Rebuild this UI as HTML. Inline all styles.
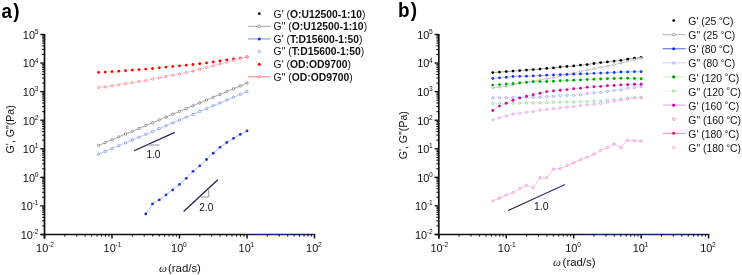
<!DOCTYPE html>
<html><head><meta charset="utf-8"><title>G' G" vs omega</title>
<style>html,body{margin:0;padding:0;background:#fff;}body{width:742px;height:275px;overflow:hidden;}svg{display:block;filter:blur(0.3px);}</style>
</head><body>
<svg width="742" height="275" viewBox="0 0 742 275" font-family='"Liberation Sans", sans-serif' fill="#111">
<defs>
<linearGradient id="xgA" gradientUnits="userSpaceOnUse" x1="44" y1="0" x2="315" y2="0"><stop offset="0" stop-color="#111"/><stop offset="0.73" stop-color="#111"/><stop offset="0.78" stop-color="#1c1c78"/><stop offset="1" stop-color="#1c1c78"/></linearGradient>
<linearGradient id="xgB" gradientUnits="userSpaceOnUse" x1="438" y1="0" x2="709" y2="0"><stop offset="0" stop-color="#111"/><stop offset="0.5" stop-color="#111"/><stop offset="0.57" stop-color="#1c1c78"/><stop offset="1" stop-color="#1c1c78"/></linearGradient>
<linearGradient id="slA" gradientUnits="userSpaceOnUse" x1="134" y1="0" x2="175" y2="0"><stop offset="0" stop-color="#1b1b3a"/><stop offset="1" stop-color="#22226a"/></linearGradient>
<linearGradient id="slB" gradientUnits="userSpaceOnUse" x1="508" y1="0" x2="565" y2="0"><stop offset="0" stop-color="#222"/><stop offset="1" stop-color="#30309a"/></linearGradient>
</defs>
<text transform="translate(1.6,17.6) scale(0.9,1)" font-size="21" letter-spacing="1.3" font-weight="bold" fill="#000">a)</text>
<text transform="translate(398,16.8) scale(0.9,1)" font-size="21" letter-spacing="1.3" font-weight="bold" fill="#000">b)</text>
<line x1="44.50" y1="34.00" x2="44.50" y2="238.50" stroke="#111" stroke-width="1.7"/>
<line x1="40.50" y1="234.50" x2="315.10" y2="234.50" stroke="url(#xgA)" stroke-width="1.3"/>
<line x1="40.30" y1="234.50" x2="44.50" y2="234.50" stroke="#111" stroke-width="1.4"/>
<line x1="42.10" y1="225.90" x2="44.50" y2="225.90" stroke="#111" stroke-width="1.1"/>
<line x1="42.10" y1="220.87" x2="44.50" y2="220.87" stroke="#111" stroke-width="1.1"/>
<line x1="42.10" y1="217.30" x2="44.50" y2="217.30" stroke="#111" stroke-width="1.1"/>
<line x1="42.10" y1="214.53" x2="44.50" y2="214.53" stroke="#111" stroke-width="1.1"/>
<line x1="42.10" y1="212.27" x2="44.50" y2="212.27" stroke="#111" stroke-width="1.1"/>
<line x1="42.10" y1="210.35" x2="44.50" y2="210.35" stroke="#111" stroke-width="1.1"/>
<line x1="42.10" y1="208.70" x2="44.50" y2="208.70" stroke="#111" stroke-width="1.1"/>
<line x1="42.10" y1="207.24" x2="44.50" y2="207.24" stroke="#111" stroke-width="1.1"/>
<line x1="40.30" y1="205.93" x2="44.50" y2="205.93" stroke="#111" stroke-width="1.4"/>
<line x1="42.10" y1="197.33" x2="44.50" y2="197.33" stroke="#111" stroke-width="1.1"/>
<line x1="42.10" y1="192.30" x2="44.50" y2="192.30" stroke="#111" stroke-width="1.1"/>
<line x1="42.10" y1="188.73" x2="44.50" y2="188.73" stroke="#111" stroke-width="1.1"/>
<line x1="42.10" y1="185.96" x2="44.50" y2="185.96" stroke="#111" stroke-width="1.1"/>
<line x1="42.10" y1="183.70" x2="44.50" y2="183.70" stroke="#111" stroke-width="1.1"/>
<line x1="42.10" y1="181.78" x2="44.50" y2="181.78" stroke="#111" stroke-width="1.1"/>
<line x1="42.10" y1="180.13" x2="44.50" y2="180.13" stroke="#111" stroke-width="1.1"/>
<line x1="42.10" y1="178.66" x2="44.50" y2="178.66" stroke="#111" stroke-width="1.1"/>
<line x1="40.30" y1="177.36" x2="44.50" y2="177.36" stroke="#111" stroke-width="1.4"/>
<line x1="42.10" y1="168.76" x2="44.50" y2="168.76" stroke="#111" stroke-width="1.1"/>
<line x1="42.10" y1="163.73" x2="44.50" y2="163.73" stroke="#111" stroke-width="1.1"/>
<line x1="42.10" y1="160.16" x2="44.50" y2="160.16" stroke="#111" stroke-width="1.1"/>
<line x1="42.10" y1="157.39" x2="44.50" y2="157.39" stroke="#111" stroke-width="1.1"/>
<line x1="42.10" y1="155.12" x2="44.50" y2="155.12" stroke="#111" stroke-width="1.1"/>
<line x1="42.10" y1="153.21" x2="44.50" y2="153.21" stroke="#111" stroke-width="1.1"/>
<line x1="42.10" y1="151.55" x2="44.50" y2="151.55" stroke="#111" stroke-width="1.1"/>
<line x1="42.10" y1="150.09" x2="44.50" y2="150.09" stroke="#111" stroke-width="1.1"/>
<line x1="40.30" y1="148.79" x2="44.50" y2="148.79" stroke="#111" stroke-width="1.4"/>
<line x1="42.10" y1="140.18" x2="44.50" y2="140.18" stroke="#111" stroke-width="1.1"/>
<line x1="42.10" y1="135.15" x2="44.50" y2="135.15" stroke="#111" stroke-width="1.1"/>
<line x1="42.10" y1="131.58" x2="44.50" y2="131.58" stroke="#111" stroke-width="1.1"/>
<line x1="42.10" y1="128.82" x2="44.50" y2="128.82" stroke="#111" stroke-width="1.1"/>
<line x1="42.10" y1="126.55" x2="44.50" y2="126.55" stroke="#111" stroke-width="1.1"/>
<line x1="42.10" y1="124.64" x2="44.50" y2="124.64" stroke="#111" stroke-width="1.1"/>
<line x1="42.10" y1="122.98" x2="44.50" y2="122.98" stroke="#111" stroke-width="1.1"/>
<line x1="42.10" y1="121.52" x2="44.50" y2="121.52" stroke="#111" stroke-width="1.1"/>
<line x1="40.30" y1="120.21" x2="44.50" y2="120.21" stroke="#111" stroke-width="1.4"/>
<line x1="42.10" y1="111.61" x2="44.50" y2="111.61" stroke="#111" stroke-width="1.1"/>
<line x1="42.10" y1="106.58" x2="44.50" y2="106.58" stroke="#111" stroke-width="1.1"/>
<line x1="42.10" y1="103.01" x2="44.50" y2="103.01" stroke="#111" stroke-width="1.1"/>
<line x1="42.10" y1="100.24" x2="44.50" y2="100.24" stroke="#111" stroke-width="1.1"/>
<line x1="42.10" y1="97.98" x2="44.50" y2="97.98" stroke="#111" stroke-width="1.1"/>
<line x1="42.10" y1="96.07" x2="44.50" y2="96.07" stroke="#111" stroke-width="1.1"/>
<line x1="42.10" y1="94.41" x2="44.50" y2="94.41" stroke="#111" stroke-width="1.1"/>
<line x1="42.10" y1="92.95" x2="44.50" y2="92.95" stroke="#111" stroke-width="1.1"/>
<line x1="40.30" y1="91.64" x2="44.50" y2="91.64" stroke="#111" stroke-width="1.4"/>
<line x1="42.10" y1="83.04" x2="44.50" y2="83.04" stroke="#111" stroke-width="1.1"/>
<line x1="42.10" y1="78.01" x2="44.50" y2="78.01" stroke="#111" stroke-width="1.1"/>
<line x1="42.10" y1="74.44" x2="44.50" y2="74.44" stroke="#111" stroke-width="1.1"/>
<line x1="42.10" y1="71.67" x2="44.50" y2="71.67" stroke="#111" stroke-width="1.1"/>
<line x1="42.10" y1="69.41" x2="44.50" y2="69.41" stroke="#111" stroke-width="1.1"/>
<line x1="42.10" y1="67.50" x2="44.50" y2="67.50" stroke="#111" stroke-width="1.1"/>
<line x1="42.10" y1="65.84" x2="44.50" y2="65.84" stroke="#111" stroke-width="1.1"/>
<line x1="42.10" y1="64.38" x2="44.50" y2="64.38" stroke="#111" stroke-width="1.1"/>
<line x1="40.30" y1="63.07" x2="44.50" y2="63.07" stroke="#111" stroke-width="1.4"/>
<line x1="42.10" y1="54.47" x2="44.50" y2="54.47" stroke="#111" stroke-width="1.1"/>
<line x1="42.10" y1="49.44" x2="44.50" y2="49.44" stroke="#111" stroke-width="1.1"/>
<line x1="42.10" y1="45.87" x2="44.50" y2="45.87" stroke="#111" stroke-width="1.1"/>
<line x1="42.10" y1="43.10" x2="44.50" y2="43.10" stroke="#111" stroke-width="1.1"/>
<line x1="42.10" y1="40.84" x2="44.50" y2="40.84" stroke="#111" stroke-width="1.1"/>
<line x1="42.10" y1="38.93" x2="44.50" y2="38.93" stroke="#111" stroke-width="1.1"/>
<line x1="42.10" y1="37.27" x2="44.50" y2="37.27" stroke="#111" stroke-width="1.1"/>
<line x1="42.10" y1="35.81" x2="44.50" y2="35.81" stroke="#111" stroke-width="1.1"/>
<line x1="40.30" y1="34.50" x2="44.50" y2="34.50" stroke="#111" stroke-width="1.4"/>
<line x1="44.50" y1="234.00" x2="44.50" y2="238.50" stroke="#111" stroke-width="1.5"/>
<line x1="64.82" y1="234.00" x2="64.82" y2="236.60" stroke="#111" stroke-width="1.1"/>
<line x1="76.71" y1="234.00" x2="76.71" y2="236.60" stroke="#111" stroke-width="1.1"/>
<line x1="85.14" y1="234.00" x2="85.14" y2="236.60" stroke="#111" stroke-width="1.1"/>
<line x1="91.68" y1="234.00" x2="91.68" y2="236.60" stroke="#111" stroke-width="1.1"/>
<line x1="97.03" y1="234.00" x2="97.03" y2="236.60" stroke="#111" stroke-width="1.1"/>
<line x1="101.54" y1="234.00" x2="101.54" y2="236.60" stroke="#111" stroke-width="1.1"/>
<line x1="105.46" y1="234.00" x2="105.46" y2="236.60" stroke="#111" stroke-width="1.1"/>
<line x1="108.91" y1="234.00" x2="108.91" y2="236.60" stroke="#111" stroke-width="1.1"/>
<line x1="112.00" y1="234.00" x2="112.00" y2="238.50" stroke="#111" stroke-width="1.5"/>
<line x1="132.32" y1="234.00" x2="132.32" y2="236.60" stroke="#111" stroke-width="1.1"/>
<line x1="144.21" y1="234.00" x2="144.21" y2="236.60" stroke="#111" stroke-width="1.1"/>
<line x1="152.64" y1="234.00" x2="152.64" y2="236.60" stroke="#111" stroke-width="1.1"/>
<line x1="159.18" y1="234.00" x2="159.18" y2="236.60" stroke="#111" stroke-width="1.1"/>
<line x1="164.53" y1="234.00" x2="164.53" y2="236.60" stroke="#111" stroke-width="1.1"/>
<line x1="169.04" y1="234.00" x2="169.04" y2="236.60" stroke="#111" stroke-width="1.1"/>
<line x1="172.96" y1="234.00" x2="172.96" y2="236.60" stroke="#111" stroke-width="1.1"/>
<line x1="176.41" y1="234.00" x2="176.41" y2="236.60" stroke="#111" stroke-width="1.1"/>
<line x1="179.50" y1="234.00" x2="179.50" y2="238.50" stroke="#111" stroke-width="1.5"/>
<line x1="199.82" y1="234.00" x2="199.82" y2="236.60" stroke="#111" stroke-width="1.1"/>
<line x1="211.71" y1="234.00" x2="211.71" y2="236.60" stroke="#111" stroke-width="1.1"/>
<line x1="220.14" y1="234.00" x2="220.14" y2="236.60" stroke="#111" stroke-width="1.1"/>
<line x1="226.68" y1="234.00" x2="226.68" y2="236.60" stroke="#111" stroke-width="1.1"/>
<line x1="232.03" y1="234.00" x2="232.03" y2="236.60" stroke="#111" stroke-width="1.1"/>
<line x1="236.54" y1="234.00" x2="236.54" y2="236.60" stroke="#111" stroke-width="1.1"/>
<line x1="240.46" y1="234.00" x2="240.46" y2="236.60" stroke="#111" stroke-width="1.1"/>
<line x1="243.91" y1="234.00" x2="243.91" y2="236.60" stroke="#111" stroke-width="1.1"/>
<line x1="247.00" y1="234.00" x2="247.00" y2="238.50" stroke="#111" stroke-width="1.5"/>
<line x1="267.32" y1="234.00" x2="267.32" y2="236.60" stroke="#111" stroke-width="1.1"/>
<line x1="279.21" y1="234.00" x2="279.21" y2="236.60" stroke="#111" stroke-width="1.1"/>
<line x1="287.64" y1="234.00" x2="287.64" y2="236.60" stroke="#111" stroke-width="1.1"/>
<line x1="294.18" y1="234.00" x2="294.18" y2="236.60" stroke="#111" stroke-width="1.1"/>
<line x1="299.53" y1="234.00" x2="299.53" y2="236.60" stroke="#111" stroke-width="1.1"/>
<line x1="304.04" y1="234.00" x2="304.04" y2="236.60" stroke="#111" stroke-width="1.1"/>
<line x1="307.96" y1="234.00" x2="307.96" y2="236.60" stroke="#111" stroke-width="1.1"/>
<line x1="311.41" y1="234.00" x2="311.41" y2="236.60" stroke="#111" stroke-width="1.1"/>
<line x1="314.50" y1="234.00" x2="314.50" y2="238.50" stroke="#111" stroke-width="1.5"/>
<text transform="translate(38.50,238.90) scale(0.95,1)" text-anchor="end" font-size="11.5">10<tspan dx="-0.2" dy="-4.9" font-size="7">-2</tspan></text>
<text transform="translate(38.50,210.33) scale(0.95,1)" text-anchor="end" font-size="11.5">10<tspan dx="-0.2" dy="-4.9" font-size="7">-1</tspan></text>
<text transform="translate(38.50,181.76) scale(0.95,1)" text-anchor="end" font-size="11.5">10<tspan dx="-0.2" dy="-4.9" font-size="7">0</tspan></text>
<text transform="translate(38.50,153.19) scale(0.95,1)" text-anchor="end" font-size="11.5">10<tspan dx="-0.2" dy="-4.9" font-size="7">1</tspan></text>
<text transform="translate(38.50,124.61) scale(0.95,1)" text-anchor="end" font-size="11.5">10<tspan dx="-0.2" dy="-4.9" font-size="7">2</tspan></text>
<text transform="translate(38.50,96.04) scale(0.95,1)" text-anchor="end" font-size="11.5">10<tspan dx="-0.2" dy="-4.9" font-size="7">3</tspan></text>
<text transform="translate(38.50,67.47) scale(0.95,1)" text-anchor="end" font-size="11.5">10<tspan dx="-0.2" dy="-4.9" font-size="7">4</tspan></text>
<text transform="translate(38.50,38.90) scale(0.95,1)" text-anchor="end" font-size="11.5">10<tspan dx="-0.2" dy="-4.9" font-size="7">5</tspan></text>
<text transform="translate(36.10,252.30) scale(0.95,1)" font-size="11.5">10<tspan dx="-0.3" dy="-4.9" font-size="7">-2</tspan></text>
<text transform="translate(103.60,252.30) scale(0.95,1)" font-size="11.5">10<tspan dx="-0.3" dy="-4.9" font-size="7">-1</tspan></text>
<text transform="translate(171.10,252.30) scale(0.95,1)" font-size="11.5">10<tspan dx="-0.3" dy="-4.9" font-size="7">0</tspan></text>
<text transform="translate(238.60,252.30) scale(0.95,1)" font-size="11.5">10<tspan dx="-0.3" dy="-4.9" font-size="7">1</tspan></text>
<text transform="translate(306.10,252.30) scale(0.95,1)" font-size="11.5">10<tspan dx="-0.3" dy="-4.9" font-size="7">2</tspan></text>
<line x1="438.80" y1="34.00" x2="438.80" y2="238.50" stroke="#111" stroke-width="1.7"/>
<line x1="434.80" y1="234.50" x2="709.20" y2="234.50" stroke="url(#xgB)" stroke-width="1.3"/>
<line x1="434.60" y1="234.50" x2="438.80" y2="234.50" stroke="#111" stroke-width="1.4"/>
<line x1="436.40" y1="225.90" x2="438.80" y2="225.90" stroke="#111" stroke-width="1.1"/>
<line x1="436.40" y1="220.87" x2="438.80" y2="220.87" stroke="#111" stroke-width="1.1"/>
<line x1="436.40" y1="217.30" x2="438.80" y2="217.30" stroke="#111" stroke-width="1.1"/>
<line x1="436.40" y1="214.53" x2="438.80" y2="214.53" stroke="#111" stroke-width="1.1"/>
<line x1="436.40" y1="212.27" x2="438.80" y2="212.27" stroke="#111" stroke-width="1.1"/>
<line x1="436.40" y1="210.35" x2="438.80" y2="210.35" stroke="#111" stroke-width="1.1"/>
<line x1="436.40" y1="208.70" x2="438.80" y2="208.70" stroke="#111" stroke-width="1.1"/>
<line x1="436.40" y1="207.24" x2="438.80" y2="207.24" stroke="#111" stroke-width="1.1"/>
<line x1="434.60" y1="205.93" x2="438.80" y2="205.93" stroke="#111" stroke-width="1.4"/>
<line x1="436.40" y1="197.33" x2="438.80" y2="197.33" stroke="#111" stroke-width="1.1"/>
<line x1="436.40" y1="192.30" x2="438.80" y2="192.30" stroke="#111" stroke-width="1.1"/>
<line x1="436.40" y1="188.73" x2="438.80" y2="188.73" stroke="#111" stroke-width="1.1"/>
<line x1="436.40" y1="185.96" x2="438.80" y2="185.96" stroke="#111" stroke-width="1.1"/>
<line x1="436.40" y1="183.70" x2="438.80" y2="183.70" stroke="#111" stroke-width="1.1"/>
<line x1="436.40" y1="181.78" x2="438.80" y2="181.78" stroke="#111" stroke-width="1.1"/>
<line x1="436.40" y1="180.13" x2="438.80" y2="180.13" stroke="#111" stroke-width="1.1"/>
<line x1="436.40" y1="178.66" x2="438.80" y2="178.66" stroke="#111" stroke-width="1.1"/>
<line x1="434.60" y1="177.36" x2="438.80" y2="177.36" stroke="#111" stroke-width="1.4"/>
<line x1="436.40" y1="168.76" x2="438.80" y2="168.76" stroke="#111" stroke-width="1.1"/>
<line x1="436.40" y1="163.73" x2="438.80" y2="163.73" stroke="#111" stroke-width="1.1"/>
<line x1="436.40" y1="160.16" x2="438.80" y2="160.16" stroke="#111" stroke-width="1.1"/>
<line x1="436.40" y1="157.39" x2="438.80" y2="157.39" stroke="#111" stroke-width="1.1"/>
<line x1="436.40" y1="155.12" x2="438.80" y2="155.12" stroke="#111" stroke-width="1.1"/>
<line x1="436.40" y1="153.21" x2="438.80" y2="153.21" stroke="#111" stroke-width="1.1"/>
<line x1="436.40" y1="151.55" x2="438.80" y2="151.55" stroke="#111" stroke-width="1.1"/>
<line x1="436.40" y1="150.09" x2="438.80" y2="150.09" stroke="#111" stroke-width="1.1"/>
<line x1="434.60" y1="148.79" x2="438.80" y2="148.79" stroke="#111" stroke-width="1.4"/>
<line x1="436.40" y1="140.18" x2="438.80" y2="140.18" stroke="#111" stroke-width="1.1"/>
<line x1="436.40" y1="135.15" x2="438.80" y2="135.15" stroke="#111" stroke-width="1.1"/>
<line x1="436.40" y1="131.58" x2="438.80" y2="131.58" stroke="#111" stroke-width="1.1"/>
<line x1="436.40" y1="128.82" x2="438.80" y2="128.82" stroke="#111" stroke-width="1.1"/>
<line x1="436.40" y1="126.55" x2="438.80" y2="126.55" stroke="#111" stroke-width="1.1"/>
<line x1="436.40" y1="124.64" x2="438.80" y2="124.64" stroke="#111" stroke-width="1.1"/>
<line x1="436.40" y1="122.98" x2="438.80" y2="122.98" stroke="#111" stroke-width="1.1"/>
<line x1="436.40" y1="121.52" x2="438.80" y2="121.52" stroke="#111" stroke-width="1.1"/>
<line x1="434.60" y1="120.21" x2="438.80" y2="120.21" stroke="#111" stroke-width="1.4"/>
<line x1="436.40" y1="111.61" x2="438.80" y2="111.61" stroke="#111" stroke-width="1.1"/>
<line x1="436.40" y1="106.58" x2="438.80" y2="106.58" stroke="#111" stroke-width="1.1"/>
<line x1="436.40" y1="103.01" x2="438.80" y2="103.01" stroke="#111" stroke-width="1.1"/>
<line x1="436.40" y1="100.24" x2="438.80" y2="100.24" stroke="#111" stroke-width="1.1"/>
<line x1="436.40" y1="97.98" x2="438.80" y2="97.98" stroke="#111" stroke-width="1.1"/>
<line x1="436.40" y1="96.07" x2="438.80" y2="96.07" stroke="#111" stroke-width="1.1"/>
<line x1="436.40" y1="94.41" x2="438.80" y2="94.41" stroke="#111" stroke-width="1.1"/>
<line x1="436.40" y1="92.95" x2="438.80" y2="92.95" stroke="#111" stroke-width="1.1"/>
<line x1="434.60" y1="91.64" x2="438.80" y2="91.64" stroke="#111" stroke-width="1.4"/>
<line x1="436.40" y1="83.04" x2="438.80" y2="83.04" stroke="#111" stroke-width="1.1"/>
<line x1="436.40" y1="78.01" x2="438.80" y2="78.01" stroke="#111" stroke-width="1.1"/>
<line x1="436.40" y1="74.44" x2="438.80" y2="74.44" stroke="#111" stroke-width="1.1"/>
<line x1="436.40" y1="71.67" x2="438.80" y2="71.67" stroke="#111" stroke-width="1.1"/>
<line x1="436.40" y1="69.41" x2="438.80" y2="69.41" stroke="#111" stroke-width="1.1"/>
<line x1="436.40" y1="67.50" x2="438.80" y2="67.50" stroke="#111" stroke-width="1.1"/>
<line x1="436.40" y1="65.84" x2="438.80" y2="65.84" stroke="#111" stroke-width="1.1"/>
<line x1="436.40" y1="64.38" x2="438.80" y2="64.38" stroke="#111" stroke-width="1.1"/>
<line x1="434.60" y1="63.07" x2="438.80" y2="63.07" stroke="#111" stroke-width="1.4"/>
<line x1="436.40" y1="54.47" x2="438.80" y2="54.47" stroke="#111" stroke-width="1.1"/>
<line x1="436.40" y1="49.44" x2="438.80" y2="49.44" stroke="#111" stroke-width="1.1"/>
<line x1="436.40" y1="45.87" x2="438.80" y2="45.87" stroke="#111" stroke-width="1.1"/>
<line x1="436.40" y1="43.10" x2="438.80" y2="43.10" stroke="#111" stroke-width="1.1"/>
<line x1="436.40" y1="40.84" x2="438.80" y2="40.84" stroke="#111" stroke-width="1.1"/>
<line x1="436.40" y1="38.93" x2="438.80" y2="38.93" stroke="#111" stroke-width="1.1"/>
<line x1="436.40" y1="37.27" x2="438.80" y2="37.27" stroke="#111" stroke-width="1.1"/>
<line x1="436.40" y1="35.81" x2="438.80" y2="35.81" stroke="#111" stroke-width="1.1"/>
<line x1="434.60" y1="34.50" x2="438.80" y2="34.50" stroke="#111" stroke-width="1.4"/>
<line x1="438.80" y1="234.00" x2="438.80" y2="238.50" stroke="#111" stroke-width="1.5"/>
<line x1="459.10" y1="234.00" x2="459.10" y2="236.60" stroke="#111" stroke-width="1.1"/>
<line x1="470.98" y1="234.00" x2="470.98" y2="236.60" stroke="#111" stroke-width="1.1"/>
<line x1="479.41" y1="234.00" x2="479.41" y2="236.60" stroke="#111" stroke-width="1.1"/>
<line x1="485.95" y1="234.00" x2="485.95" y2="236.60" stroke="#111" stroke-width="1.1"/>
<line x1="491.29" y1="234.00" x2="491.29" y2="236.60" stroke="#111" stroke-width="1.1"/>
<line x1="495.80" y1="234.00" x2="495.80" y2="236.60" stroke="#111" stroke-width="1.1"/>
<line x1="499.71" y1="234.00" x2="499.71" y2="236.60" stroke="#111" stroke-width="1.1"/>
<line x1="503.16" y1="234.00" x2="503.16" y2="236.60" stroke="#111" stroke-width="1.1"/>
<line x1="506.25" y1="234.00" x2="506.25" y2="238.50" stroke="#111" stroke-width="1.5"/>
<line x1="526.55" y1="234.00" x2="526.55" y2="236.60" stroke="#111" stroke-width="1.1"/>
<line x1="538.43" y1="234.00" x2="538.43" y2="236.60" stroke="#111" stroke-width="1.1"/>
<line x1="546.86" y1="234.00" x2="546.86" y2="236.60" stroke="#111" stroke-width="1.1"/>
<line x1="553.40" y1="234.00" x2="553.40" y2="236.60" stroke="#111" stroke-width="1.1"/>
<line x1="558.74" y1="234.00" x2="558.74" y2="236.60" stroke="#111" stroke-width="1.1"/>
<line x1="563.25" y1="234.00" x2="563.25" y2="236.60" stroke="#111" stroke-width="1.1"/>
<line x1="567.16" y1="234.00" x2="567.16" y2="236.60" stroke="#111" stroke-width="1.1"/>
<line x1="570.61" y1="234.00" x2="570.61" y2="236.60" stroke="#111" stroke-width="1.1"/>
<line x1="573.70" y1="234.00" x2="573.70" y2="238.50" stroke="#111" stroke-width="1.5"/>
<line x1="594.00" y1="234.00" x2="594.00" y2="236.60" stroke="#111" stroke-width="1.1"/>
<line x1="605.88" y1="234.00" x2="605.88" y2="236.60" stroke="#111" stroke-width="1.1"/>
<line x1="614.31" y1="234.00" x2="614.31" y2="236.60" stroke="#111" stroke-width="1.1"/>
<line x1="620.85" y1="234.00" x2="620.85" y2="236.60" stroke="#111" stroke-width="1.1"/>
<line x1="626.19" y1="234.00" x2="626.19" y2="236.60" stroke="#111" stroke-width="1.1"/>
<line x1="630.70" y1="234.00" x2="630.70" y2="236.60" stroke="#111" stroke-width="1.1"/>
<line x1="634.61" y1="234.00" x2="634.61" y2="236.60" stroke="#111" stroke-width="1.1"/>
<line x1="638.06" y1="234.00" x2="638.06" y2="236.60" stroke="#111" stroke-width="1.1"/>
<line x1="641.15" y1="234.00" x2="641.15" y2="238.50" stroke="#111" stroke-width="1.5"/>
<line x1="661.45" y1="234.00" x2="661.45" y2="236.60" stroke="#111" stroke-width="1.1"/>
<line x1="673.33" y1="234.00" x2="673.33" y2="236.60" stroke="#111" stroke-width="1.1"/>
<line x1="681.76" y1="234.00" x2="681.76" y2="236.60" stroke="#111" stroke-width="1.1"/>
<line x1="688.30" y1="234.00" x2="688.30" y2="236.60" stroke="#111" stroke-width="1.1"/>
<line x1="693.64" y1="234.00" x2="693.64" y2="236.60" stroke="#111" stroke-width="1.1"/>
<line x1="698.15" y1="234.00" x2="698.15" y2="236.60" stroke="#111" stroke-width="1.1"/>
<line x1="702.06" y1="234.00" x2="702.06" y2="236.60" stroke="#111" stroke-width="1.1"/>
<line x1="705.51" y1="234.00" x2="705.51" y2="236.60" stroke="#111" stroke-width="1.1"/>
<line x1="708.60" y1="234.00" x2="708.60" y2="238.50" stroke="#111" stroke-width="1.5"/>
<text transform="translate(432.80,238.90) scale(0.95,1)" text-anchor="end" font-size="11.5">10<tspan dx="-0.2" dy="-4.9" font-size="7">-2</tspan></text>
<text transform="translate(432.80,210.33) scale(0.95,1)" text-anchor="end" font-size="11.5">10<tspan dx="-0.2" dy="-4.9" font-size="7">-1</tspan></text>
<text transform="translate(432.80,181.76) scale(0.95,1)" text-anchor="end" font-size="11.5">10<tspan dx="-0.2" dy="-4.9" font-size="7">0</tspan></text>
<text transform="translate(432.80,153.19) scale(0.95,1)" text-anchor="end" font-size="11.5">10<tspan dx="-0.2" dy="-4.9" font-size="7">1</tspan></text>
<text transform="translate(432.80,124.61) scale(0.95,1)" text-anchor="end" font-size="11.5">10<tspan dx="-0.2" dy="-4.9" font-size="7">2</tspan></text>
<text transform="translate(432.80,96.04) scale(0.95,1)" text-anchor="end" font-size="11.5">10<tspan dx="-0.2" dy="-4.9" font-size="7">3</tspan></text>
<text transform="translate(432.80,67.47) scale(0.95,1)" text-anchor="end" font-size="11.5">10<tspan dx="-0.2" dy="-4.9" font-size="7">4</tspan></text>
<text transform="translate(432.80,38.90) scale(0.95,1)" text-anchor="end" font-size="11.5">10<tspan dx="-0.2" dy="-4.9" font-size="7">5</tspan></text>
<text transform="translate(430.40,252.30) scale(0.95,1)" font-size="11.5">10<tspan dx="-0.3" dy="-4.9" font-size="7">-2</tspan></text>
<text transform="translate(497.85,252.30) scale(0.95,1)" font-size="11.5">10<tspan dx="-0.3" dy="-4.9" font-size="7">-1</tspan></text>
<text transform="translate(565.30,252.30) scale(0.95,1)" font-size="11.5">10<tspan dx="-0.3" dy="-4.9" font-size="7">0</tspan></text>
<text transform="translate(632.75,252.30) scale(0.95,1)" font-size="11.5">10<tspan dx="-0.3" dy="-4.9" font-size="7">1</tspan></text>
<text transform="translate(700.20,252.30) scale(0.95,1)" font-size="11.5">10<tspan dx="-0.3" dy="-4.9" font-size="7">2</tspan></text>
<text transform="translate(13.8,129.3) rotate(-90)" text-anchor="middle" font-size="10.6">G', G"(Pa)</text>
<text transform="translate(407.3,135.2) rotate(-90)" text-anchor="middle" font-size="10.6">G', G"(Pa)</text>
<text x="158.9" y="272.4" font-family='"Liberation Serif", serif' font-style="italic" font-size="11.2">ω</text>
<text x="168.0" y="272.4" font-size="11.4">(rad/s)</text>
<text x="552.9" y="266.3" font-family='"Liberation Serif", serif' font-style="italic" font-size="11.2">ω</text>
<text x="562.6" y="266.3" font-size="11.4">(rad/s)</text>
<path d="M98.50,145.40 L105.25,142.57 L112.00,139.74 L118.75,136.90 L125.50,134.07 L132.25,131.24 L139.00,128.41 L145.75,125.58 L152.50,122.75 L159.25,119.91 L166.00,117.08 L172.75,114.25 L179.50,111.42 L186.25,108.59 L193.00,105.75 L199.75,102.92 L206.50,100.09 L213.25,97.26 L220.00,94.43 L226.75,91.60 L233.50,88.76 L240.25,85.93 L247.00,83.10" fill="none" stroke="#7a7a7a" stroke-width="0.65"/>
<circle cx="98.50" cy="145.40" r="1.2" fill="#fff" stroke="#555" stroke-width="0.6"/>
<circle cx="105.25" cy="142.57" r="1.2" fill="#fff" stroke="#555" stroke-width="0.6"/>
<circle cx="112.00" cy="139.74" r="1.2" fill="#fff" stroke="#555" stroke-width="0.6"/>
<circle cx="118.75" cy="136.90" r="1.2" fill="#fff" stroke="#555" stroke-width="0.6"/>
<circle cx="125.50" cy="134.07" r="1.2" fill="#fff" stroke="#555" stroke-width="0.6"/>
<circle cx="132.25" cy="131.24" r="1.2" fill="#fff" stroke="#555" stroke-width="0.6"/>
<circle cx="139.00" cy="128.41" r="1.2" fill="#fff" stroke="#555" stroke-width="0.6"/>
<circle cx="145.75" cy="125.58" r="1.2" fill="#fff" stroke="#555" stroke-width="0.6"/>
<circle cx="152.50" cy="122.75" r="1.2" fill="#fff" stroke="#555" stroke-width="0.6"/>
<circle cx="159.25" cy="119.91" r="1.2" fill="#fff" stroke="#555" stroke-width="0.6"/>
<circle cx="166.00" cy="117.08" r="1.2" fill="#fff" stroke="#555" stroke-width="0.6"/>
<circle cx="172.75" cy="114.25" r="1.2" fill="#fff" stroke="#555" stroke-width="0.6"/>
<circle cx="179.50" cy="111.42" r="1.2" fill="#fff" stroke="#555" stroke-width="0.6"/>
<circle cx="186.25" cy="108.59" r="1.2" fill="#fff" stroke="#555" stroke-width="0.6"/>
<circle cx="193.00" cy="105.75" r="1.2" fill="#fff" stroke="#555" stroke-width="0.6"/>
<circle cx="199.75" cy="102.92" r="1.2" fill="#fff" stroke="#555" stroke-width="0.6"/>
<circle cx="206.50" cy="100.09" r="1.2" fill="#fff" stroke="#555" stroke-width="0.6"/>
<circle cx="213.25" cy="97.26" r="1.2" fill="#fff" stroke="#555" stroke-width="0.6"/>
<circle cx="220.00" cy="94.43" r="1.2" fill="#fff" stroke="#555" stroke-width="0.6"/>
<circle cx="226.75" cy="91.60" r="1.2" fill="#fff" stroke="#555" stroke-width="0.6"/>
<circle cx="233.50" cy="88.76" r="1.2" fill="#fff" stroke="#555" stroke-width="0.6"/>
<circle cx="240.25" cy="85.93" r="1.2" fill="#fff" stroke="#555" stroke-width="0.6"/>
<circle cx="247.00" cy="83.10" r="1.2" fill="#fff" stroke="#555" stroke-width="0.6"/>
<path d="M145.75,213.90 L152.50,203.90 L159.25,199.90 L166.00,194.90 L172.75,189.90 L179.50,184.40 L186.25,178.30 L193.00,171.30 L199.75,165.80 L206.50,159.50 L213.25,153.20 L220.00,147.30 L226.75,142.50 L233.50,138.30 L240.25,134.40 L247.00,130.90" fill="none" stroke="#7d8cf2" stroke-width="0.6"/>
<circle cx="145.75" cy="213.90" r="1.4" fill="#1836d8" stroke="none" stroke-width="0"/>
<circle cx="152.50" cy="203.90" r="1.4" fill="#1836d8" stroke="none" stroke-width="0"/>
<circle cx="159.25" cy="199.90" r="1.4" fill="#1836d8" stroke="none" stroke-width="0"/>
<circle cx="166.00" cy="194.90" r="1.4" fill="#1836d8" stroke="none" stroke-width="0"/>
<circle cx="172.75" cy="189.90" r="1.4" fill="#1836d8" stroke="none" stroke-width="0"/>
<circle cx="179.50" cy="184.40" r="1.4" fill="#1836d8" stroke="none" stroke-width="0"/>
<circle cx="186.25" cy="178.30" r="1.4" fill="#1836d8" stroke="none" stroke-width="0"/>
<circle cx="193.00" cy="171.30" r="1.4" fill="#1836d8" stroke="none" stroke-width="0"/>
<circle cx="199.75" cy="165.80" r="1.4" fill="#1836d8" stroke="none" stroke-width="0"/>
<circle cx="206.50" cy="159.50" r="1.4" fill="#1836d8" stroke="none" stroke-width="0"/>
<circle cx="213.25" cy="153.20" r="1.4" fill="#1836d8" stroke="none" stroke-width="0"/>
<circle cx="220.00" cy="147.30" r="1.4" fill="#1836d8" stroke="none" stroke-width="0"/>
<circle cx="226.75" cy="142.50" r="1.4" fill="#1836d8" stroke="none" stroke-width="0"/>
<circle cx="233.50" cy="138.30" r="1.4" fill="#1836d8" stroke="none" stroke-width="0"/>
<circle cx="240.25" cy="134.40" r="1.4" fill="#1836d8" stroke="none" stroke-width="0"/>
<circle cx="247.00" cy="130.90" r="1.4" fill="#1836d8" stroke="none" stroke-width="0"/>
<path d="M98.50,154.30 L105.25,151.45 L112.00,148.59 L118.75,145.74 L125.50,142.88 L132.25,140.03 L139.00,137.17 L145.75,134.32 L152.50,131.46 L159.25,128.61 L166.00,125.75 L172.75,122.90 L179.50,120.05 L186.25,117.19 L193.00,114.34 L199.75,111.48 L206.50,108.63 L213.25,105.77 L220.00,102.92 L226.75,100.06 L233.50,97.21 L240.25,94.35 L247.00,91.50" fill="none" stroke="#8f9cf0" stroke-width="0.6"/>
<circle cx="98.50" cy="154.30" r="1.2" fill="#fff" stroke="#5566e0" stroke-width="0.6"/>
<circle cx="105.25" cy="151.45" r="1.2" fill="#fff" stroke="#5566e0" stroke-width="0.6"/>
<circle cx="112.00" cy="148.59" r="1.2" fill="#fff" stroke="#5566e0" stroke-width="0.6"/>
<circle cx="118.75" cy="145.74" r="1.2" fill="#fff" stroke="#5566e0" stroke-width="0.6"/>
<circle cx="125.50" cy="142.88" r="1.2" fill="#fff" stroke="#5566e0" stroke-width="0.6"/>
<circle cx="132.25" cy="140.03" r="1.2" fill="#fff" stroke="#5566e0" stroke-width="0.6"/>
<circle cx="139.00" cy="137.17" r="1.2" fill="#fff" stroke="#5566e0" stroke-width="0.6"/>
<circle cx="145.75" cy="134.32" r="1.2" fill="#fff" stroke="#5566e0" stroke-width="0.6"/>
<circle cx="152.50" cy="131.46" r="1.2" fill="#fff" stroke="#5566e0" stroke-width="0.6"/>
<circle cx="159.25" cy="128.61" r="1.2" fill="#fff" stroke="#5566e0" stroke-width="0.6"/>
<circle cx="166.00" cy="125.75" r="1.2" fill="#fff" stroke="#5566e0" stroke-width="0.6"/>
<circle cx="172.75" cy="122.90" r="1.2" fill="#fff" stroke="#5566e0" stroke-width="0.6"/>
<circle cx="179.50" cy="120.05" r="1.2" fill="#fff" stroke="#5566e0" stroke-width="0.6"/>
<circle cx="186.25" cy="117.19" r="1.2" fill="#fff" stroke="#5566e0" stroke-width="0.6"/>
<circle cx="193.00" cy="114.34" r="1.2" fill="#fff" stroke="#5566e0" stroke-width="0.6"/>
<circle cx="199.75" cy="111.48" r="1.2" fill="#fff" stroke="#5566e0" stroke-width="0.6"/>
<circle cx="206.50" cy="108.63" r="1.2" fill="#fff" stroke="#5566e0" stroke-width="0.6"/>
<circle cx="213.25" cy="105.77" r="1.2" fill="#fff" stroke="#5566e0" stroke-width="0.6"/>
<circle cx="220.00" cy="102.92" r="1.2" fill="#fff" stroke="#5566e0" stroke-width="0.6"/>
<circle cx="226.75" cy="100.06" r="1.2" fill="#fff" stroke="#5566e0" stroke-width="0.6"/>
<circle cx="233.50" cy="97.21" r="1.2" fill="#fff" stroke="#5566e0" stroke-width="0.6"/>
<circle cx="240.25" cy="94.35" r="1.2" fill="#fff" stroke="#5566e0" stroke-width="0.6"/>
<circle cx="247.00" cy="91.50" r="1.2" fill="#fff" stroke="#5566e0" stroke-width="0.6"/>
<path d="M98.50,72.40 L105.25,72.10 L112.00,71.70 L118.75,71.18 L125.50,70.66 L132.25,70.14 L139.00,69.62 L145.75,69.10 L152.50,68.50 L159.25,67.80 L166.00,67.10 L172.75,66.40 L179.50,65.80 L186.25,65.20 L193.00,64.50 L199.75,63.70 L206.50,62.90 L213.25,62.00 L220.00,61.00 L226.75,60.00 L233.50,59.00 L240.25,58.10 L247.00,56.90" fill="none" stroke="#ffb8b8" stroke-width="0.4"/>
<circle cx="98.50" cy="72.40" r="1.4" fill="#ff0000" stroke="none" stroke-width="0"/>
<circle cx="105.25" cy="72.10" r="1.4" fill="#ff0000" stroke="none" stroke-width="0"/>
<circle cx="112.00" cy="71.70" r="1.4" fill="#ff0000" stroke="none" stroke-width="0"/>
<circle cx="118.75" cy="71.18" r="1.4" fill="#ff0000" stroke="none" stroke-width="0"/>
<circle cx="125.50" cy="70.66" r="1.4" fill="#ff0000" stroke="none" stroke-width="0"/>
<circle cx="132.25" cy="70.14" r="1.4" fill="#ff0000" stroke="none" stroke-width="0"/>
<circle cx="139.00" cy="69.62" r="1.4" fill="#ff0000" stroke="none" stroke-width="0"/>
<circle cx="145.75" cy="69.10" r="1.4" fill="#ff0000" stroke="none" stroke-width="0"/>
<circle cx="152.50" cy="68.50" r="1.4" fill="#ff0000" stroke="none" stroke-width="0"/>
<circle cx="159.25" cy="67.80" r="1.4" fill="#ff0000" stroke="none" stroke-width="0"/>
<circle cx="166.00" cy="67.10" r="1.4" fill="#ff0000" stroke="none" stroke-width="0"/>
<circle cx="172.75" cy="66.40" r="1.4" fill="#ff0000" stroke="none" stroke-width="0"/>
<circle cx="179.50" cy="65.80" r="1.4" fill="#ff0000" stroke="none" stroke-width="0"/>
<circle cx="186.25" cy="65.20" r="1.4" fill="#ff0000" stroke="none" stroke-width="0"/>
<circle cx="193.00" cy="64.50" r="1.4" fill="#ff0000" stroke="none" stroke-width="0"/>
<circle cx="199.75" cy="63.70" r="1.4" fill="#ff0000" stroke="none" stroke-width="0"/>
<circle cx="206.50" cy="62.90" r="1.4" fill="#ff0000" stroke="none" stroke-width="0"/>
<circle cx="213.25" cy="62.00" r="1.4" fill="#ff0000" stroke="none" stroke-width="0"/>
<circle cx="220.00" cy="61.00" r="1.4" fill="#ff0000" stroke="none" stroke-width="0"/>
<circle cx="226.75" cy="60.00" r="1.4" fill="#ff0000" stroke="none" stroke-width="0"/>
<circle cx="233.50" cy="59.00" r="1.4" fill="#ff0000" stroke="none" stroke-width="0"/>
<circle cx="240.25" cy="58.10" r="1.4" fill="#ff0000" stroke="none" stroke-width="0"/>
<circle cx="247.00" cy="56.90" r="1.4" fill="#ff0000" stroke="none" stroke-width="0"/>
<path d="M98.50,87.50 L105.25,86.80 L112.00,85.77 L118.75,84.73 L125.50,83.70 L132.25,82.67 L139.00,81.63 L145.75,80.60 L152.50,79.00 L159.25,77.90 L166.00,76.50 L172.75,75.10 L179.50,73.90 L186.25,72.50 L193.00,71.00 L199.75,69.30 L206.50,67.54 L213.25,65.79 L220.00,64.03 L226.75,62.27 L233.50,60.51 L240.25,58.76 L247.00,57.00" fill="none" stroke="#ff9aa6" stroke-width="0.5"/>
<circle cx="98.50" cy="87.50" r="1.15" fill="#fff" stroke="#ff4d6a" stroke-width="0.6"/>
<circle cx="105.25" cy="86.80" r="1.15" fill="#fff" stroke="#ff4d6a" stroke-width="0.6"/>
<circle cx="112.00" cy="85.77" r="1.15" fill="#fff" stroke="#ff4d6a" stroke-width="0.6"/>
<circle cx="118.75" cy="84.73" r="1.15" fill="#fff" stroke="#ff4d6a" stroke-width="0.6"/>
<circle cx="125.50" cy="83.70" r="1.15" fill="#fff" stroke="#ff4d6a" stroke-width="0.6"/>
<circle cx="132.25" cy="82.67" r="1.15" fill="#fff" stroke="#ff4d6a" stroke-width="0.6"/>
<circle cx="139.00" cy="81.63" r="1.15" fill="#fff" stroke="#ff4d6a" stroke-width="0.6"/>
<circle cx="145.75" cy="80.60" r="1.15" fill="#fff" stroke="#ff4d6a" stroke-width="0.6"/>
<circle cx="152.50" cy="79.00" r="1.15" fill="#fff" stroke="#ff4d6a" stroke-width="0.6"/>
<circle cx="159.25" cy="77.90" r="1.15" fill="#fff" stroke="#ff4d6a" stroke-width="0.6"/>
<circle cx="166.00" cy="76.50" r="1.15" fill="#fff" stroke="#ff4d6a" stroke-width="0.6"/>
<circle cx="172.75" cy="75.10" r="1.15" fill="#fff" stroke="#ff4d6a" stroke-width="0.6"/>
<circle cx="179.50" cy="73.90" r="1.15" fill="#fff" stroke="#ff4d6a" stroke-width="0.6"/>
<circle cx="186.25" cy="72.50" r="1.15" fill="#fff" stroke="#ff4d6a" stroke-width="0.6"/>
<circle cx="193.00" cy="71.00" r="1.15" fill="#fff" stroke="#ff4d6a" stroke-width="0.6"/>
<circle cx="199.75" cy="69.30" r="1.15" fill="#fff" stroke="#ff4d6a" stroke-width="0.6"/>
<circle cx="206.50" cy="67.54" r="1.15" fill="#fff" stroke="#ff4d6a" stroke-width="0.6"/>
<circle cx="213.25" cy="65.79" r="1.15" fill="#fff" stroke="#ff4d6a" stroke-width="0.6"/>
<circle cx="220.00" cy="64.03" r="1.15" fill="#fff" stroke="#ff4d6a" stroke-width="0.6"/>
<circle cx="226.75" cy="62.27" r="1.15" fill="#fff" stroke="#ff4d6a" stroke-width="0.6"/>
<circle cx="233.50" cy="60.51" r="1.15" fill="#fff" stroke="#ff4d6a" stroke-width="0.6"/>
<circle cx="240.25" cy="58.76" r="1.15" fill="#fff" stroke="#ff4d6a" stroke-width="0.6"/>
<circle cx="247.00" cy="57.00" r="1.15" fill="#fff" stroke="#ff4d6a" stroke-width="0.6"/>
<line x1="134.1" y1="150.7" x2="174.8" y2="132.4" stroke="url(#slA)" stroke-width="1.2"/>
<line x1="147.7" y1="145" x2="159.6" y2="145" stroke="#9a9a9a" stroke-width="1.1"/>
<text x="146.5" y="157.6" font-size="10">1.0</text>
<line x1="183.6" y1="211.5" x2="217.8" y2="179.7" stroke="#1c1c5a" stroke-width="1.2"/>
<polyline points="208.7,188.8 208.7,197 200.5,197" fill="none" stroke="#9a9a9a" stroke-width="1"/>
<text x="199.3" y="211.2" font-size="10">2.0</text>
<path d="M492.76,72.60 L499.50,72.10 L506.25,71.60 L513.00,71.10 L519.74,70.60 L526.49,70.10 L533.23,69.60 L539.98,69.10 L546.72,68.40 L553.47,67.90 L560.21,67.00 L566.96,66.50 L573.70,65.90 L580.45,65.10 L587.19,64.60 L593.93,63.50 L600.68,62.60 L607.42,61.90 L614.17,61.10 L620.91,60.30 L627.66,59.20 L634.40,58.10 L641.15,57.50" fill="none" stroke="#555" stroke-width="0.5"/>
<circle cx="492.76" cy="72.60" r="1.4" fill="#000" stroke="none" stroke-width="0"/>
<circle cx="499.50" cy="72.10" r="1.4" fill="#000" stroke="none" stroke-width="0"/>
<circle cx="506.25" cy="71.60" r="1.4" fill="#000" stroke="none" stroke-width="0"/>
<circle cx="513.00" cy="71.10" r="1.4" fill="#000" stroke="none" stroke-width="0"/>
<circle cx="519.74" cy="70.60" r="1.4" fill="#000" stroke="none" stroke-width="0"/>
<circle cx="526.49" cy="70.10" r="1.4" fill="#000" stroke="none" stroke-width="0"/>
<circle cx="533.23" cy="69.60" r="1.4" fill="#000" stroke="none" stroke-width="0"/>
<circle cx="539.98" cy="69.10" r="1.4" fill="#000" stroke="none" stroke-width="0"/>
<circle cx="546.72" cy="68.40" r="1.4" fill="#000" stroke="none" stroke-width="0"/>
<circle cx="553.47" cy="67.90" r="1.4" fill="#000" stroke="none" stroke-width="0"/>
<circle cx="560.21" cy="67.00" r="1.4" fill="#000" stroke="none" stroke-width="0"/>
<circle cx="566.96" cy="66.50" r="1.4" fill="#000" stroke="none" stroke-width="0"/>
<circle cx="573.70" cy="65.90" r="1.4" fill="#000" stroke="none" stroke-width="0"/>
<circle cx="580.45" cy="65.10" r="1.4" fill="#000" stroke="none" stroke-width="0"/>
<circle cx="587.19" cy="64.60" r="1.4" fill="#000" stroke="none" stroke-width="0"/>
<circle cx="593.93" cy="63.50" r="1.4" fill="#000" stroke="none" stroke-width="0"/>
<circle cx="600.68" cy="62.60" r="1.4" fill="#000" stroke="none" stroke-width="0"/>
<circle cx="607.42" cy="61.90" r="1.4" fill="#000" stroke="none" stroke-width="0"/>
<circle cx="614.17" cy="61.10" r="1.4" fill="#000" stroke="none" stroke-width="0"/>
<circle cx="620.91" cy="60.30" r="1.4" fill="#000" stroke="none" stroke-width="0"/>
<circle cx="627.66" cy="59.20" r="1.4" fill="#000" stroke="none" stroke-width="0"/>
<circle cx="634.40" cy="58.10" r="1.4" fill="#000" stroke="none" stroke-width="0"/>
<circle cx="641.15" cy="57.50" r="1.4" fill="#000" stroke="none" stroke-width="0"/>
<path d="M492.76,87.80 L499.50,87.05 L506.25,86.30 L513.00,84.65 L519.74,83.00 L526.49,82.15 L533.23,81.30 L539.98,80.00 L546.72,78.70 L553.47,77.60 L560.21,76.20 L566.96,74.50 L573.70,72.80 L580.45,71.40 L587.19,70.00 L593.93,68.65 L600.68,67.30 L607.42,66.20 L614.17,64.60 L620.91,63.00 L627.66,61.40 L634.40,59.65 L641.15,57.90" fill="none" stroke="#a8a8a8" stroke-width="0.6"/>
<circle cx="492.76" cy="87.80" r="1.0" fill="#fff" stroke="#8a8a8a" stroke-width="0.5"/>
<circle cx="499.50" cy="87.05" r="1.0" fill="#fff" stroke="#8a8a8a" stroke-width="0.5"/>
<circle cx="506.25" cy="86.30" r="1.0" fill="#fff" stroke="#8a8a8a" stroke-width="0.5"/>
<circle cx="513.00" cy="84.65" r="1.0" fill="#fff" stroke="#8a8a8a" stroke-width="0.5"/>
<circle cx="519.74" cy="83.00" r="1.0" fill="#fff" stroke="#8a8a8a" stroke-width="0.5"/>
<circle cx="526.49" cy="82.15" r="1.0" fill="#fff" stroke="#8a8a8a" stroke-width="0.5"/>
<circle cx="533.23" cy="81.30" r="1.0" fill="#fff" stroke="#8a8a8a" stroke-width="0.5"/>
<circle cx="539.98" cy="80.00" r="1.0" fill="#fff" stroke="#8a8a8a" stroke-width="0.5"/>
<circle cx="546.72" cy="78.70" r="1.0" fill="#fff" stroke="#8a8a8a" stroke-width="0.5"/>
<circle cx="553.47" cy="77.60" r="1.0" fill="#fff" stroke="#8a8a8a" stroke-width="0.5"/>
<circle cx="560.21" cy="76.20" r="1.0" fill="#fff" stroke="#8a8a8a" stroke-width="0.5"/>
<circle cx="566.96" cy="74.50" r="1.0" fill="#fff" stroke="#8a8a8a" stroke-width="0.5"/>
<circle cx="573.70" cy="72.80" r="1.0" fill="#fff" stroke="#8a8a8a" stroke-width="0.5"/>
<circle cx="580.45" cy="71.40" r="1.0" fill="#fff" stroke="#8a8a8a" stroke-width="0.5"/>
<circle cx="587.19" cy="70.00" r="1.0" fill="#fff" stroke="#8a8a8a" stroke-width="0.5"/>
<circle cx="593.93" cy="68.65" r="1.0" fill="#fff" stroke="#8a8a8a" stroke-width="0.5"/>
<circle cx="600.68" cy="67.30" r="1.0" fill="#fff" stroke="#8a8a8a" stroke-width="0.5"/>
<circle cx="607.42" cy="66.20" r="1.0" fill="#fff" stroke="#8a8a8a" stroke-width="0.5"/>
<circle cx="614.17" cy="64.60" r="1.0" fill="#fff" stroke="#8a8a8a" stroke-width="0.5"/>
<circle cx="620.91" cy="63.00" r="1.0" fill="#fff" stroke="#8a8a8a" stroke-width="0.5"/>
<circle cx="627.66" cy="61.40" r="1.0" fill="#fff" stroke="#8a8a8a" stroke-width="0.5"/>
<circle cx="634.40" cy="59.65" r="1.0" fill="#fff" stroke="#8a8a8a" stroke-width="0.5"/>
<circle cx="641.15" cy="57.90" r="1.0" fill="#fff" stroke="#8a8a8a" stroke-width="0.5"/>
<path d="M492.76,78.40 L499.50,77.80 L506.25,77.30 L513.00,76.50 L519.74,76.30 L526.49,76.20 L533.23,75.90 L539.98,75.60 L546.72,75.20 L553.47,75.00 L560.21,74.60 L566.96,74.40 L573.70,74.20 L580.45,73.90 L587.19,73.80 L593.93,73.30 L600.68,73.10 L607.42,72.80 L614.17,72.50 L620.91,72.00 L627.66,71.90 L634.40,71.70 L641.15,71.70" fill="none" stroke="#8090f5" stroke-width="0.6"/>
<circle cx="492.76" cy="78.40" r="1.4" fill="#1a35e8" stroke="none" stroke-width="0"/>
<circle cx="499.50" cy="77.80" r="1.4" fill="#1a35e8" stroke="none" stroke-width="0"/>
<circle cx="506.25" cy="77.30" r="1.4" fill="#1a35e8" stroke="none" stroke-width="0"/>
<circle cx="513.00" cy="76.50" r="1.4" fill="#1a35e8" stroke="none" stroke-width="0"/>
<circle cx="519.74" cy="76.30" r="1.4" fill="#1a35e8" stroke="none" stroke-width="0"/>
<circle cx="526.49" cy="76.20" r="1.4" fill="#1a35e8" stroke="none" stroke-width="0"/>
<circle cx="533.23" cy="75.90" r="1.4" fill="#1a35e8" stroke="none" stroke-width="0"/>
<circle cx="539.98" cy="75.60" r="1.4" fill="#1a35e8" stroke="none" stroke-width="0"/>
<circle cx="546.72" cy="75.20" r="1.4" fill="#1a35e8" stroke="none" stroke-width="0"/>
<circle cx="553.47" cy="75.00" r="1.4" fill="#1a35e8" stroke="none" stroke-width="0"/>
<circle cx="560.21" cy="74.60" r="1.4" fill="#1a35e8" stroke="none" stroke-width="0"/>
<circle cx="566.96" cy="74.40" r="1.4" fill="#1a35e8" stroke="none" stroke-width="0"/>
<circle cx="573.70" cy="74.20" r="1.4" fill="#1a35e8" stroke="none" stroke-width="0"/>
<circle cx="580.45" cy="73.90" r="1.4" fill="#1a35e8" stroke="none" stroke-width="0"/>
<circle cx="587.19" cy="73.80" r="1.4" fill="#1a35e8" stroke="none" stroke-width="0"/>
<circle cx="593.93" cy="73.30" r="1.4" fill="#1a35e8" stroke="none" stroke-width="0"/>
<circle cx="600.68" cy="73.10" r="1.4" fill="#1a35e8" stroke="none" stroke-width="0"/>
<circle cx="607.42" cy="72.80" r="1.4" fill="#1a35e8" stroke="none" stroke-width="0"/>
<circle cx="614.17" cy="72.50" r="1.4" fill="#1a35e8" stroke="none" stroke-width="0"/>
<circle cx="620.91" cy="72.00" r="1.4" fill="#1a35e8" stroke="none" stroke-width="0"/>
<circle cx="627.66" cy="71.90" r="1.4" fill="#1a35e8" stroke="none" stroke-width="0"/>
<circle cx="634.40" cy="71.70" r="1.4" fill="#1a35e8" stroke="none" stroke-width="0"/>
<circle cx="641.15" cy="71.70" r="1.4" fill="#1a35e8" stroke="none" stroke-width="0"/>
<path d="M492.76,97.80 L499.50,97.73 L506.25,97.66 L513.00,97.59 L519.74,97.51 L526.49,97.44 L533.23,97.37 L539.98,97.30 L546.72,96.70 L553.47,96.10 L560.21,95.50 L566.96,95.30 L573.70,95.30 L580.45,94.70 L587.19,93.60 L593.93,92.80 L600.68,92.40 L607.42,91.40 L614.17,90.50 L620.91,89.90 L627.66,88.40 L634.40,87.60 L641.15,86.50" fill="none" stroke="#c4caf6" stroke-width="0.5"/>
<circle cx="492.76" cy="97.80" r="1.15" fill="#fff" stroke="#6a78e6" stroke-width="0.55"/>
<circle cx="499.50" cy="97.73" r="1.15" fill="#fff" stroke="#6a78e6" stroke-width="0.55"/>
<circle cx="506.25" cy="97.66" r="1.15" fill="#fff" stroke="#6a78e6" stroke-width="0.55"/>
<circle cx="513.00" cy="97.59" r="1.15" fill="#fff" stroke="#6a78e6" stroke-width="0.55"/>
<circle cx="519.74" cy="97.51" r="1.15" fill="#fff" stroke="#6a78e6" stroke-width="0.55"/>
<circle cx="526.49" cy="97.44" r="1.15" fill="#fff" stroke="#6a78e6" stroke-width="0.55"/>
<circle cx="533.23" cy="97.37" r="1.15" fill="#fff" stroke="#6a78e6" stroke-width="0.55"/>
<circle cx="539.98" cy="97.30" r="1.15" fill="#fff" stroke="#6a78e6" stroke-width="0.55"/>
<circle cx="546.72" cy="96.70" r="1.15" fill="#fff" stroke="#6a78e6" stroke-width="0.55"/>
<circle cx="553.47" cy="96.10" r="1.15" fill="#fff" stroke="#6a78e6" stroke-width="0.55"/>
<circle cx="560.21" cy="95.50" r="1.15" fill="#fff" stroke="#6a78e6" stroke-width="0.55"/>
<circle cx="566.96" cy="95.30" r="1.15" fill="#fff" stroke="#6a78e6" stroke-width="0.55"/>
<circle cx="573.70" cy="95.30" r="1.15" fill="#fff" stroke="#6a78e6" stroke-width="0.55"/>
<circle cx="580.45" cy="94.70" r="1.15" fill="#fff" stroke="#6a78e6" stroke-width="0.55"/>
<circle cx="587.19" cy="93.60" r="1.15" fill="#fff" stroke="#6a78e6" stroke-width="0.55"/>
<circle cx="593.93" cy="92.80" r="1.15" fill="#fff" stroke="#6a78e6" stroke-width="0.55"/>
<circle cx="600.68" cy="92.40" r="1.15" fill="#fff" stroke="#6a78e6" stroke-width="0.55"/>
<circle cx="607.42" cy="91.40" r="1.15" fill="#fff" stroke="#6a78e6" stroke-width="0.55"/>
<circle cx="614.17" cy="90.50" r="1.15" fill="#fff" stroke="#6a78e6" stroke-width="0.55"/>
<circle cx="620.91" cy="89.90" r="1.15" fill="#fff" stroke="#6a78e6" stroke-width="0.55"/>
<circle cx="627.66" cy="88.40" r="1.15" fill="#fff" stroke="#6a78e6" stroke-width="0.55"/>
<circle cx="634.40" cy="87.60" r="1.15" fill="#fff" stroke="#6a78e6" stroke-width="0.55"/>
<circle cx="641.15" cy="86.50" r="1.15" fill="#fff" stroke="#6a78e6" stroke-width="0.55"/>
<path d="M492.76,85.10 L499.50,84.60 L506.25,84.00 L513.00,83.50 L519.74,82.90 L526.49,82.40 L533.23,81.80 L539.98,81.60 L546.72,81.50 L553.47,81.20 L560.21,80.80 L566.96,80.40 L573.70,80.30 L580.45,79.90 L587.19,79.50 L593.93,79.20 L600.68,79.00 L607.42,78.70 L614.17,78.50 L620.91,78.20 L627.66,78.20 L634.40,78.50 L641.15,78.70" fill="none" stroke="#97e097" stroke-width="0.6"/>
<circle cx="492.76" cy="85.10" r="1.45" fill="#00aa00" stroke="none" stroke-width="0"/>
<circle cx="499.50" cy="84.60" r="1.45" fill="#00aa00" stroke="none" stroke-width="0"/>
<circle cx="506.25" cy="84.00" r="1.45" fill="#00aa00" stroke="none" stroke-width="0"/>
<circle cx="513.00" cy="83.50" r="1.45" fill="#00aa00" stroke="none" stroke-width="0"/>
<circle cx="519.74" cy="82.90" r="1.45" fill="#00aa00" stroke="none" stroke-width="0"/>
<circle cx="526.49" cy="82.40" r="1.45" fill="#00aa00" stroke="none" stroke-width="0"/>
<circle cx="533.23" cy="81.80" r="1.45" fill="#00aa00" stroke="none" stroke-width="0"/>
<circle cx="539.98" cy="81.60" r="1.45" fill="#00aa00" stroke="none" stroke-width="0"/>
<circle cx="546.72" cy="81.50" r="1.45" fill="#00aa00" stroke="none" stroke-width="0"/>
<circle cx="553.47" cy="81.20" r="1.45" fill="#00aa00" stroke="none" stroke-width="0"/>
<circle cx="560.21" cy="80.80" r="1.45" fill="#00aa00" stroke="none" stroke-width="0"/>
<circle cx="566.96" cy="80.40" r="1.45" fill="#00aa00" stroke="none" stroke-width="0"/>
<circle cx="573.70" cy="80.30" r="1.45" fill="#00aa00" stroke="none" stroke-width="0"/>
<circle cx="580.45" cy="79.90" r="1.45" fill="#00aa00" stroke="none" stroke-width="0"/>
<circle cx="587.19" cy="79.50" r="1.45" fill="#00aa00" stroke="none" stroke-width="0"/>
<circle cx="593.93" cy="79.20" r="1.45" fill="#00aa00" stroke="none" stroke-width="0"/>
<circle cx="600.68" cy="79.00" r="1.45" fill="#00aa00" stroke="none" stroke-width="0"/>
<circle cx="607.42" cy="78.70" r="1.45" fill="#00aa00" stroke="none" stroke-width="0"/>
<circle cx="614.17" cy="78.50" r="1.45" fill="#00aa00" stroke="none" stroke-width="0"/>
<circle cx="620.91" cy="78.20" r="1.45" fill="#00aa00" stroke="none" stroke-width="0"/>
<circle cx="627.66" cy="78.20" r="1.45" fill="#00aa00" stroke="none" stroke-width="0"/>
<circle cx="634.40" cy="78.50" r="1.45" fill="#00aa00" stroke="none" stroke-width="0"/>
<circle cx="641.15" cy="78.70" r="1.45" fill="#00aa00" stroke="none" stroke-width="0"/>
<path d="M492.76,103.50 L499.50,103.40 L506.25,103.30 L513.00,103.20 L519.74,103.10 L526.49,103.00 L533.23,102.90 L539.98,102.80 L546.72,102.61 L553.47,102.42 L560.21,102.23 L566.96,102.04 L573.70,101.86 L580.45,101.67 L587.19,101.48 L593.93,101.29 L600.68,101.10 L607.42,100.40 L614.17,99.70 L620.91,99.20 L627.66,98.20 L634.40,97.50 L641.15,97.30" fill="none" stroke="#cdeecd" stroke-width="0.5"/>
<circle cx="492.76" cy="103.50" r="1.15" fill="#fff" stroke="#5cc05c" stroke-width="0.55"/>
<circle cx="499.50" cy="103.40" r="1.15" fill="#fff" stroke="#5cc05c" stroke-width="0.55"/>
<circle cx="506.25" cy="103.30" r="1.15" fill="#fff" stroke="#5cc05c" stroke-width="0.55"/>
<circle cx="513.00" cy="103.20" r="1.15" fill="#fff" stroke="#5cc05c" stroke-width="0.55"/>
<circle cx="519.74" cy="103.10" r="1.15" fill="#fff" stroke="#5cc05c" stroke-width="0.55"/>
<circle cx="526.49" cy="103.00" r="1.15" fill="#fff" stroke="#5cc05c" stroke-width="0.55"/>
<circle cx="533.23" cy="102.90" r="1.15" fill="#fff" stroke="#5cc05c" stroke-width="0.55"/>
<circle cx="539.98" cy="102.80" r="1.15" fill="#fff" stroke="#5cc05c" stroke-width="0.55"/>
<circle cx="546.72" cy="102.61" r="1.15" fill="#fff" stroke="#5cc05c" stroke-width="0.55"/>
<circle cx="553.47" cy="102.42" r="1.15" fill="#fff" stroke="#5cc05c" stroke-width="0.55"/>
<circle cx="560.21" cy="102.23" r="1.15" fill="#fff" stroke="#5cc05c" stroke-width="0.55"/>
<circle cx="566.96" cy="102.04" r="1.15" fill="#fff" stroke="#5cc05c" stroke-width="0.55"/>
<circle cx="573.70" cy="101.86" r="1.15" fill="#fff" stroke="#5cc05c" stroke-width="0.55"/>
<circle cx="580.45" cy="101.67" r="1.15" fill="#fff" stroke="#5cc05c" stroke-width="0.55"/>
<circle cx="587.19" cy="101.48" r="1.15" fill="#fff" stroke="#5cc05c" stroke-width="0.55"/>
<circle cx="593.93" cy="101.29" r="1.15" fill="#fff" stroke="#5cc05c" stroke-width="0.55"/>
<circle cx="600.68" cy="101.10" r="1.15" fill="#fff" stroke="#5cc05c" stroke-width="0.55"/>
<circle cx="607.42" cy="100.40" r="1.15" fill="#fff" stroke="#5cc05c" stroke-width="0.55"/>
<circle cx="614.17" cy="99.70" r="1.15" fill="#fff" stroke="#5cc05c" stroke-width="0.55"/>
<circle cx="620.91" cy="99.20" r="1.15" fill="#fff" stroke="#5cc05c" stroke-width="0.55"/>
<circle cx="627.66" cy="98.20" r="1.15" fill="#fff" stroke="#5cc05c" stroke-width="0.55"/>
<circle cx="634.40" cy="97.50" r="1.15" fill="#fff" stroke="#5cc05c" stroke-width="0.55"/>
<circle cx="641.15" cy="97.30" r="1.15" fill="#fff" stroke="#5cc05c" stroke-width="0.55"/>
<path d="M492.76,110.50 L499.50,106.10 L506.25,103.20 L513.00,100.30 L519.74,98.10 L526.49,96.20 L533.23,94.80 L539.98,93.30 L546.72,91.60 L553.47,90.90 L560.21,90.20 L566.96,89.60 L573.70,88.70 L580.45,88.20 L587.19,87.30 L593.93,86.70 L600.68,86.40 L607.42,85.80 L614.17,85.50 L620.91,84.90 L627.66,84.70 L634.40,84.20 L641.15,84.20" fill="none" stroke="#e39ae3" stroke-width="0.6"/>
<circle cx="492.76" cy="110.50" r="1.45" fill="#cc1199" stroke="none" stroke-width="0"/>
<circle cx="499.50" cy="106.10" r="1.45" fill="#cc1199" stroke="none" stroke-width="0"/>
<circle cx="506.25" cy="103.20" r="1.45" fill="#cc1199" stroke="none" stroke-width="0"/>
<circle cx="513.00" cy="100.30" r="1.45" fill="#cc1199" stroke="none" stroke-width="0"/>
<circle cx="519.74" cy="98.10" r="1.45" fill="#cc1199" stroke="none" stroke-width="0"/>
<circle cx="526.49" cy="96.20" r="1.45" fill="#cc1199" stroke="none" stroke-width="0"/>
<circle cx="533.23" cy="94.80" r="1.45" fill="#cc1199" stroke="none" stroke-width="0"/>
<circle cx="539.98" cy="93.30" r="1.45" fill="#cc1199" stroke="none" stroke-width="0"/>
<circle cx="546.72" cy="91.60" r="1.45" fill="#cc1199" stroke="none" stroke-width="0"/>
<circle cx="553.47" cy="90.90" r="1.45" fill="#cc1199" stroke="none" stroke-width="0"/>
<circle cx="560.21" cy="90.20" r="1.45" fill="#cc1199" stroke="none" stroke-width="0"/>
<circle cx="566.96" cy="89.60" r="1.45" fill="#cc1199" stroke="none" stroke-width="0"/>
<circle cx="573.70" cy="88.70" r="1.45" fill="#cc1199" stroke="none" stroke-width="0"/>
<circle cx="580.45" cy="88.20" r="1.45" fill="#cc1199" stroke="none" stroke-width="0"/>
<circle cx="587.19" cy="87.30" r="1.45" fill="#cc1199" stroke="none" stroke-width="0"/>
<circle cx="593.93" cy="86.70" r="1.45" fill="#cc1199" stroke="none" stroke-width="0"/>
<circle cx="600.68" cy="86.40" r="1.45" fill="#cc1199" stroke="none" stroke-width="0"/>
<circle cx="607.42" cy="85.80" r="1.45" fill="#cc1199" stroke="none" stroke-width="0"/>
<circle cx="614.17" cy="85.50" r="1.45" fill="#cc1199" stroke="none" stroke-width="0"/>
<circle cx="620.91" cy="84.90" r="1.45" fill="#cc1199" stroke="none" stroke-width="0"/>
<circle cx="627.66" cy="84.70" r="1.45" fill="#cc1199" stroke="none" stroke-width="0"/>
<circle cx="634.40" cy="84.20" r="1.45" fill="#cc1199" stroke="none" stroke-width="0"/>
<circle cx="641.15" cy="84.20" r="1.45" fill="#cc1199" stroke="none" stroke-width="0"/>
<path d="M492.76,119.90 L499.50,117.80 L506.25,115.90 L513.00,114.10 L519.74,113.40 L526.49,112.40 L533.23,111.50 L539.98,110.20 L546.72,109.46 L553.47,108.71 L560.21,107.97 L566.96,107.22 L573.70,106.48 L580.45,105.73 L587.19,104.99 L593.93,104.24 L600.68,103.50 L607.42,102.10 L614.17,101.10 L620.91,100.10 L627.66,98.90 L634.40,98.20 L641.15,97.80" fill="none" stroke="#f2c4f2" stroke-width="0.5"/>
<circle cx="492.76" cy="119.90" r="1.15" fill="#fff" stroke="#dc66dc" stroke-width="0.55"/>
<circle cx="499.50" cy="117.80" r="1.15" fill="#fff" stroke="#dc66dc" stroke-width="0.55"/>
<circle cx="506.25" cy="115.90" r="1.15" fill="#fff" stroke="#dc66dc" stroke-width="0.55"/>
<circle cx="513.00" cy="114.10" r="1.15" fill="#fff" stroke="#dc66dc" stroke-width="0.55"/>
<circle cx="519.74" cy="113.40" r="1.15" fill="#fff" stroke="#dc66dc" stroke-width="0.55"/>
<circle cx="526.49" cy="112.40" r="1.15" fill="#fff" stroke="#dc66dc" stroke-width="0.55"/>
<circle cx="533.23" cy="111.50" r="1.15" fill="#fff" stroke="#dc66dc" stroke-width="0.55"/>
<circle cx="539.98" cy="110.20" r="1.15" fill="#fff" stroke="#dc66dc" stroke-width="0.55"/>
<circle cx="546.72" cy="109.46" r="1.15" fill="#fff" stroke="#dc66dc" stroke-width="0.55"/>
<circle cx="553.47" cy="108.71" r="1.15" fill="#fff" stroke="#dc66dc" stroke-width="0.55"/>
<circle cx="560.21" cy="107.97" r="1.15" fill="#fff" stroke="#dc66dc" stroke-width="0.55"/>
<circle cx="566.96" cy="107.22" r="1.15" fill="#fff" stroke="#dc66dc" stroke-width="0.55"/>
<circle cx="573.70" cy="106.48" r="1.15" fill="#fff" stroke="#dc66dc" stroke-width="0.55"/>
<circle cx="580.45" cy="105.73" r="1.15" fill="#fff" stroke="#dc66dc" stroke-width="0.55"/>
<circle cx="587.19" cy="104.99" r="1.15" fill="#fff" stroke="#dc66dc" stroke-width="0.55"/>
<circle cx="593.93" cy="104.24" r="1.15" fill="#fff" stroke="#dc66dc" stroke-width="0.55"/>
<circle cx="600.68" cy="103.50" r="1.15" fill="#fff" stroke="#dc66dc" stroke-width="0.55"/>
<circle cx="607.42" cy="102.10" r="1.15" fill="#fff" stroke="#dc66dc" stroke-width="0.55"/>
<circle cx="614.17" cy="101.10" r="1.15" fill="#fff" stroke="#dc66dc" stroke-width="0.55"/>
<circle cx="620.91" cy="100.10" r="1.15" fill="#fff" stroke="#dc66dc" stroke-width="0.55"/>
<circle cx="627.66" cy="98.90" r="1.15" fill="#fff" stroke="#dc66dc" stroke-width="0.55"/>
<circle cx="634.40" cy="98.20" r="1.15" fill="#fff" stroke="#dc66dc" stroke-width="0.55"/>
<circle cx="641.15" cy="97.80" r="1.15" fill="#fff" stroke="#dc66dc" stroke-width="0.55"/>
<path d="M492.76,200.90 L499.50,198.20 L506.25,194.90 L513.00,192.70 L519.74,188.50 L526.49,185.50 L533.23,187.60 L539.98,177.60 L546.72,177.60 L553.47,169.10 L560.21,168.70 L566.96,165.50 L573.70,162.60 L580.45,159.70 L587.19,157.10 L593.93,154.20 L600.68,150.20 L607.42,147.50 L614.17,144.00 L620.91,147.50 L627.66,140.20 L634.40,140.80 L641.15,141.10" fill="none" stroke="#f79ad8" stroke-width="0.6"/>
<circle cx="492.76" cy="200.90" r="1.15" fill="#fff" stroke="#f060c4" stroke-width="0.6"/>
<circle cx="499.50" cy="198.20" r="1.15" fill="#fff" stroke="#f060c4" stroke-width="0.6"/>
<circle cx="506.25" cy="194.90" r="1.15" fill="#fff" stroke="#f060c4" stroke-width="0.6"/>
<circle cx="513.00" cy="192.70" r="1.15" fill="#fff" stroke="#f060c4" stroke-width="0.6"/>
<circle cx="519.74" cy="188.50" r="1.15" fill="#fff" stroke="#f060c4" stroke-width="0.6"/>
<circle cx="526.49" cy="185.50" r="1.15" fill="#fff" stroke="#f060c4" stroke-width="0.6"/>
<circle cx="533.23" cy="187.60" r="1.15" fill="#fff" stroke="#f060c4" stroke-width="0.6"/>
<circle cx="539.98" cy="177.60" r="1.15" fill="#fff" stroke="#f060c4" stroke-width="0.6"/>
<circle cx="546.72" cy="177.60" r="1.15" fill="#fff" stroke="#f060c4" stroke-width="0.6"/>
<circle cx="553.47" cy="169.10" r="1.15" fill="#fff" stroke="#f060c4" stroke-width="0.6"/>
<circle cx="560.21" cy="168.70" r="1.15" fill="#fff" stroke="#f060c4" stroke-width="0.6"/>
<circle cx="566.96" cy="165.50" r="1.15" fill="#fff" stroke="#f060c4" stroke-width="0.6"/>
<circle cx="573.70" cy="162.60" r="1.15" fill="#fff" stroke="#f060c4" stroke-width="0.6"/>
<circle cx="580.45" cy="159.70" r="1.15" fill="#fff" stroke="#f060c4" stroke-width="0.6"/>
<circle cx="587.19" cy="157.10" r="1.15" fill="#fff" stroke="#f060c4" stroke-width="0.6"/>
<circle cx="593.93" cy="154.20" r="1.15" fill="#fff" stroke="#f060c4" stroke-width="0.6"/>
<circle cx="600.68" cy="150.20" r="1.15" fill="#fff" stroke="#f060c4" stroke-width="0.6"/>
<circle cx="607.42" cy="147.50" r="1.15" fill="#fff" stroke="#f060c4" stroke-width="0.6"/>
<circle cx="614.17" cy="144.00" r="1.15" fill="#fff" stroke="#f060c4" stroke-width="0.6"/>
<circle cx="620.91" cy="147.50" r="1.15" fill="#fff" stroke="#f060c4" stroke-width="0.6"/>
<circle cx="627.66" cy="140.20" r="1.15" fill="#fff" stroke="#f060c4" stroke-width="0.6"/>
<circle cx="634.40" cy="140.80" r="1.15" fill="#fff" stroke="#f060c4" stroke-width="0.6"/>
<circle cx="641.15" cy="141.10" r="1.15" fill="#fff" stroke="#f060c4" stroke-width="0.6"/>
<line x1="508.2" y1="210.5" x2="565.1" y2="184.5" stroke="url(#slB)" stroke-width="1.2"/>
<line x1="539" y1="198.6" x2="548.2" y2="198.6" stroke="#dde" stroke-width="1"/>
<text x="534" y="209.5" font-size="10.5">1.0</text>
<circle cx="259.30" cy="13.70" r="1.4" fill="#000" stroke="none" stroke-width="0"/>
<text transform="translate(273.6,17.60) scale(1.037,1)" font-size="10">G' (<tspan font-weight="bold">O:U12500-1:10</tspan>)</text>
<line x1="248.2" y1="26.32" x2="270.4" y2="26.32" stroke="#8f9a9a" stroke-width="0.85"/>
<circle cx="259.30" cy="26.32" r="1.3" fill="#fff" stroke="#777" stroke-width="0.7"/>
<text transform="translate(273.6,30.22) scale(1.037,1)" font-size="10">G" (<tspan font-weight="bold">O:U12500-1:10</tspan>)</text>
<line x1="248.2" y1="38.94" x2="270.4" y2="38.94" stroke="#6677ee" stroke-width="0.85"/>
<circle cx="259.30" cy="38.94" r="1.5" fill="#1530e0" stroke="none" stroke-width="0"/>
<text transform="translate(273.6,42.84) scale(1.037,1)" font-size="10">G' (<tspan font-weight="bold">T:D15600-1:50</tspan>)</text>
<circle cx="259.30" cy="51.56" r="1.2" fill="#fff" stroke="#7080e8" stroke-width="0.7"/>
<text transform="translate(273.6,55.46) scale(1.037,1)" font-size="10">G" (<tspan font-weight="bold">T:D15600-1:50</tspan>)</text>
<circle cx="259.30" cy="64.18" r="1.5" fill="#ff0000" stroke="none" stroke-width="0"/>
<text transform="translate(273.6,68.08) scale(1.037,1)" font-size="10">G' (<tspan font-weight="bold">OD:OD9700</tspan>)</text>
<line x1="248.2" y1="76.80" x2="270.4" y2="76.80" stroke="#ff6070" stroke-width="0.85"/>
<circle cx="259.30" cy="76.80" r="1.2" fill="#fff" stroke="#ff5070" stroke-width="0.7"/>
<text transform="translate(273.6,80.70) scale(1.037,1)" font-size="10">G" (<tspan font-weight="bold">OD:OD9700</tspan>)</text>
<circle cx="673.70" cy="20.60" r="1.4" fill="#000" stroke="none" stroke-width="0"/>
<text transform="translate(688.3,25.20) scale(1.04,1)" font-size="10">G' (25 <tspan dx="-0.3" dy="-1.3" font-size="9.5">°</tspan><tspan dx="-0.2" dy="1.3">C)</tspan></text>
<line x1="662.6" y1="34.69" x2="685.8" y2="34.69" stroke="#9aaaaa" stroke-width="0.85"/>
<circle cx="673.70" cy="34.69" r="1.3" fill="#fff" stroke="#777" stroke-width="0.7"/>
<text transform="translate(688.3,39.29) scale(1.04,1)" font-size="10">G" (25 <tspan dx="-0.3" dy="-1.3" font-size="9.5">°</tspan><tspan dx="-0.2" dy="1.3">C)</tspan></text>
<line x1="662.6" y1="48.78" x2="685.8" y2="48.78" stroke="#3344dd" stroke-width="0.85"/>
<circle cx="673.70" cy="48.78" r="1.5" fill="#1530e0" stroke="none" stroke-width="0"/>
<text transform="translate(688.3,53.38) scale(1.04,1)" font-size="10">G' (80 <tspan dx="-0.3" dy="-1.3" font-size="9.5">°</tspan><tspan dx="-0.2" dy="1.3">C)</tspan></text>
<line x1="662.6" y1="62.87" x2="685.8" y2="62.87" stroke="#c8c8f4" stroke-width="0.85"/>
<circle cx="673.70" cy="62.87" r="1.3" fill="#fff" stroke="#8890ee" stroke-width="0.7"/>
<text transform="translate(688.3,67.47) scale(1.04,1)" font-size="10">G" (80 <tspan dx="-0.3" dy="-1.3" font-size="9.5">°</tspan><tspan dx="-0.2" dy="1.3">C)</tspan></text>
<line x1="662.6" y1="76.96" x2="685.8" y2="76.96" stroke="#c4f0c4" stroke-width="0.85"/>
<circle cx="673.70" cy="76.96" r="1.6" fill="#009900" stroke="none" stroke-width="0"/>
<text transform="translate(688.3,81.56) scale(1.04,1)" font-size="10">G' (120 <tspan dx="-0.3" dy="-1.3" font-size="9.5">°</tspan><tspan dx="-0.2" dy="1.3">C)</tspan></text>
<line x1="662.6" y1="91.05" x2="685.8" y2="91.05" stroke="#e4f6e4" stroke-width="0.85"/>
<circle cx="673.70" cy="91.05" r="1.3" fill="#fff" stroke="#55cc55" stroke-width="0.7"/>
<text transform="translate(688.3,95.65) scale(1.04,1)" font-size="10">G" (120 <tspan dx="-0.3" dy="-1.3" font-size="9.5">°</tspan><tspan dx="-0.2" dy="1.3">C)</tspan></text>
<line x1="662.6" y1="105.14" x2="685.8" y2="105.14" stroke="#d98ae6" stroke-width="0.85"/>
<circle cx="673.70" cy="105.14" r="1.6" fill="#cc1199" stroke="none" stroke-width="0"/>
<text transform="translate(688.3,109.74) scale(1.04,1)" font-size="10">G' (160 <tspan dx="-0.3" dy="-1.3" font-size="9.5">°</tspan><tspan dx="-0.2" dy="1.3">C)</tspan></text>
<circle cx="673.70" cy="119.23" r="1.3" fill="#fff" stroke="#ee66cc" stroke-width="0.7"/>
<text transform="translate(688.3,123.83) scale(1.04,1)" font-size="10">G" (160 <tspan dx="-0.3" dy="-1.3" font-size="9.5">°</tspan><tspan dx="-0.2" dy="1.3">C)</tspan></text>
<line x1="662.6" y1="133.32" x2="685.8" y2="133.32" stroke="#ff6fc0" stroke-width="0.85"/>
<circle cx="673.70" cy="133.32" r="1.5" fill="#ee1155" stroke="none" stroke-width="0"/>
<text transform="translate(688.3,137.92) scale(1.04,1)" font-size="10">G' (180 <tspan dx="-0.3" dy="-1.3" font-size="9.5">°</tspan><tspan dx="-0.2" dy="1.3">C)</tspan></text>
<circle cx="673.70" cy="147.41" r="1.2" fill="#fff" stroke="#ff88cc" stroke-width="0.7"/>
<text transform="translate(688.3,152.01) scale(1.04,1)" font-size="10">G" (180 <tspan dx="-0.3" dy="-1.3" font-size="9.5">°</tspan><tspan dx="-0.2" dy="1.3">C)</tspan></text>
</svg>
</body></html>
